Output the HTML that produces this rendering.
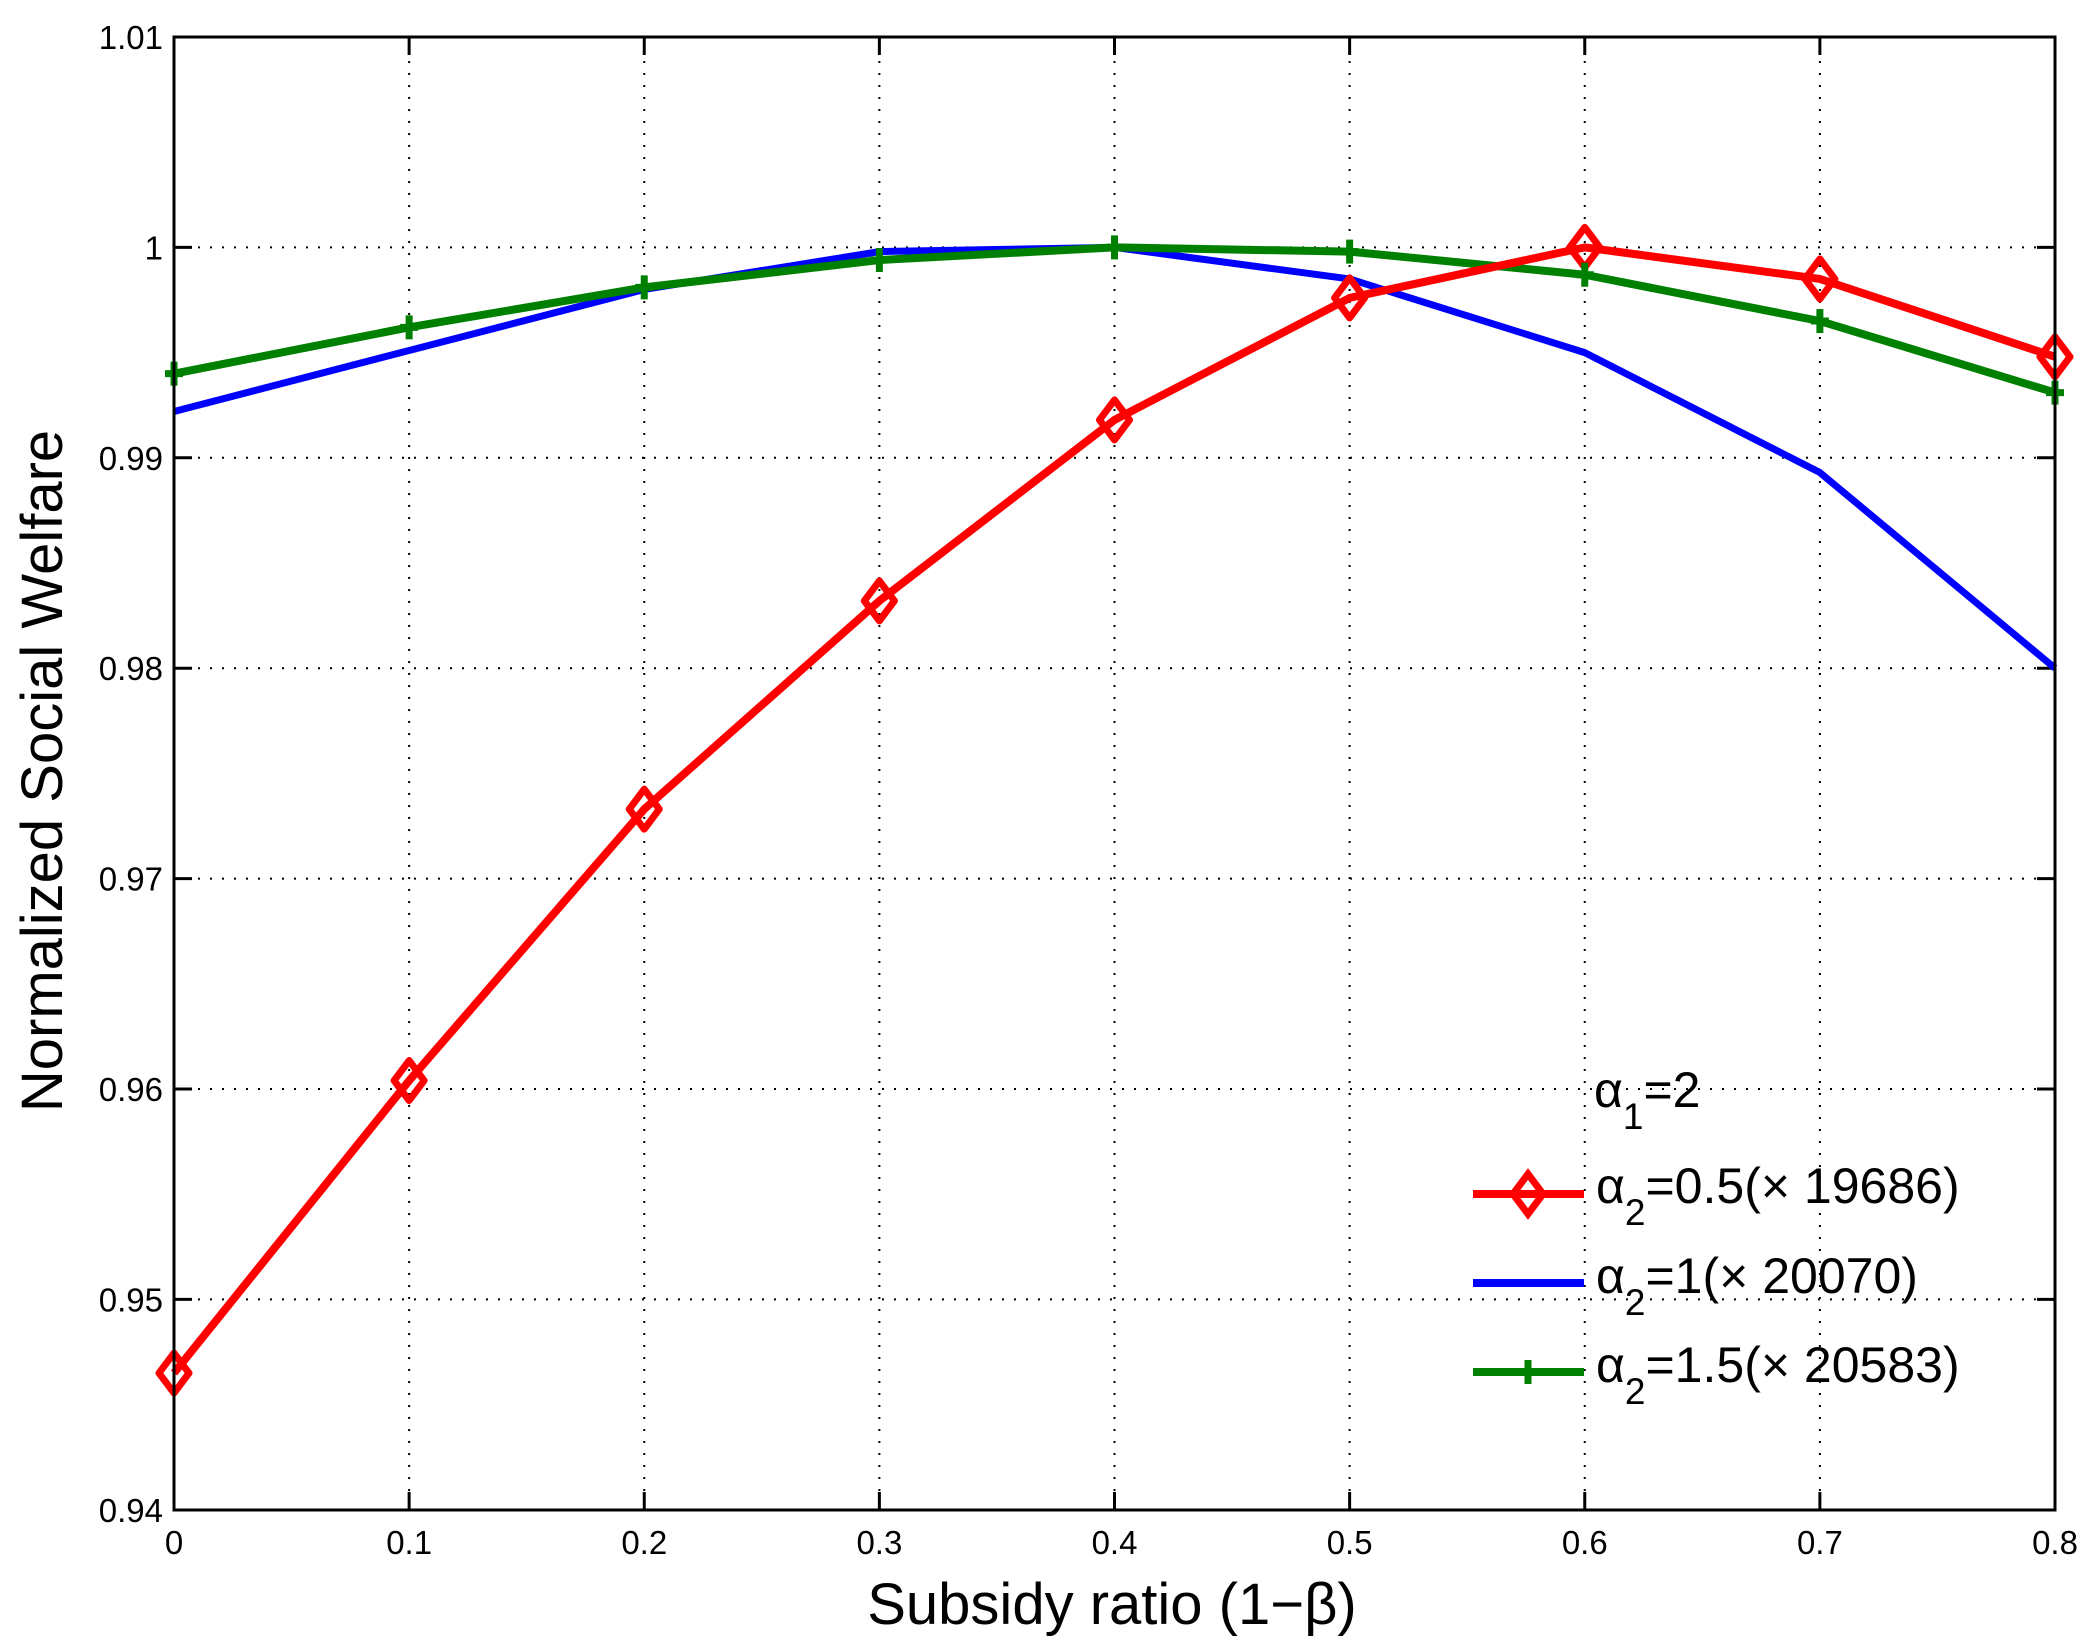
<!DOCTYPE html>
<html><head><meta charset="utf-8"><style>
html,body{margin:0;padding:0;background:#fff;}
svg{display:block;font-family:"Liberation Sans",Arial,sans-serif;}
</style></head><body>
<svg id="s" width="2099" height="1645" xmlns="http://www.w3.org/2000/svg">
<rect width="2099" height="1645" fill="#fff"/>
<g id="grid" stroke="#000" stroke-width="2" stroke-dasharray="2,10"></g>
<g id="ticks" stroke="#000" stroke-width="3"></g>
<g id="lbl" font-size="33" fill="#000"></g>
<g id="series" fill="none" stroke-linejoin="round"></g>
<rect x="174" y="37" width="1881" height="1473" fill="none" stroke="#000" stroke-width="3"/>
<text x="1112" y="1624" font-size="58" text-anchor="middle">Subsidy ratio (1−β)</text>
<text transform="translate(62,771) rotate(-90)" font-size="58" text-anchor="middle">Normalized Social Welfare</text>
<g font-size="50">
<text x="1594" y="1107">α<tspan font-size="37" dy="22">1</tspan><tspan dy="-22">=2</tspan></text>
<text x="1596" y="1203">α<tspan font-size="37" dy="22">2</tspan><tspan dy="-22">=0.5(× 19686)</tspan></text>
<text x="1596" y="1293">α<tspan font-size="37" dy="22">2</tspan><tspan dy="-22">=1(× 20070)</tspan></text>
<text x="1596" y="1382">α<tspan font-size="37" dy="22">2</tspan><tspan dy="-22">=1.5(× 20583)</tspan></text>
</g>
<line x1="1473" y1="1194" x2="1584" y2="1194" stroke="#f00" stroke-width="8"/>
<polygon points="1528,1174 1543,1194 1528,1214 1513,1194" fill="none" stroke="#f00" stroke-width="7"/>
<line x1="1473" y1="1283" x2="1584" y2="1283" stroke="#00f" stroke-width="8"/>
<line x1="1473" y1="1372" x2="1584" y2="1372" stroke="#008000" stroke-width="8"/>
<line x1="1528" y1="1360" x2="1528" y2="1384" stroke="#008000" stroke-width="7"/>
</svg>
<script>
var L=174,R=2055,T=37,B=1510;
function X(v){return L+v*(R-L)/0.8;}
function Y(v){return T+(1.01-v)*21040;}
var NS="http://www.w3.org/2000/svg";
function el(p,t,a,txt){var e=document.createElementNS(NS,t);for(var k in a)e.setAttribute(k,a[k]);if(txt!==undefined)e.textContent=txt;document.getElementById(p).appendChild(e);return e;}
var yt=[0.94,0.95,0.96,0.97,0.98,0.99,1,1.01],yl=["0.94","0.95","0.96","0.97","0.98","0.99","1","1.01"];
for(var i=0;i<yt.length;i++){var y=Y(yt[i]);
 if(i>0&&i<yt.length-1){el("grid","line",{x1:L,x2:R,y1:y,y2:y});el("ticks","line",{x1:L,x2:L+18,y1:y,y2:y});el("ticks","line",{x1:R-18,x2:R,y1:y,y2:y});}
 el("lbl","text",{x:163,y:y+12,"text-anchor":"end"},yl[i]);}
for(var i=0;i<=8;i++){var x=X(i/10);
 if(i>0&&i<8){el("grid","line",{x1:x,x2:x,y1:T,y2:B});el("ticks","line",{x1:x,x2:x,y1:B-18,y2:B});el("ticks","line",{x1:x,x2:x,y1:T,y2:T+18});}
 el("lbl","text",{x:x,y:1554,"text-anchor":"middle"},i==0?"0":(i/10).toString());}
var red=[0.9465,0.9604,0.9733,0.9832,0.9918,0.9976,1.0,0.9985,0.9948];
var blue=[0.9922,0.9951,0.9980,0.9998,1.0,0.9985,0.9950,0.9893,0.9800];
var green=[0.9940,0.9962,0.9981,0.9994,1.0,0.9998,0.9987,0.9965,0.9931];
function pts(a){return a.map(function(v,i){return X(i/10)+","+Y(v);}).join(" ");}
el("series","polyline",{points:pts(blue),stroke:"#00f","stroke-width":7});
el("series","polyline",{points:pts(green),stroke:"#008000","stroke-width":8});
el("series","polyline",{points:pts(red),stroke:"#f00","stroke-width":8});
red.forEach(function(v,i){var x=X(i/10),y=Y(v);el("series","polygon",{points:(x)+","+(y-20)+" "+(x+15)+","+y+" "+x+","+(y+20)+" "+(x-15)+","+y,stroke:"#f00","stroke-width":7});});
green.forEach(function(v,i){var x=X(i/10),y=Y(v);el("series","line",{x1:x,x2:x,y1:y-12,y2:y+12,stroke:"#008000","stroke-width":7});el("series","line",{x1:x-9,x2:x+9,y1:y,y2:y,stroke:"#008000","stroke-width":7});});
</script>
</body></html>
